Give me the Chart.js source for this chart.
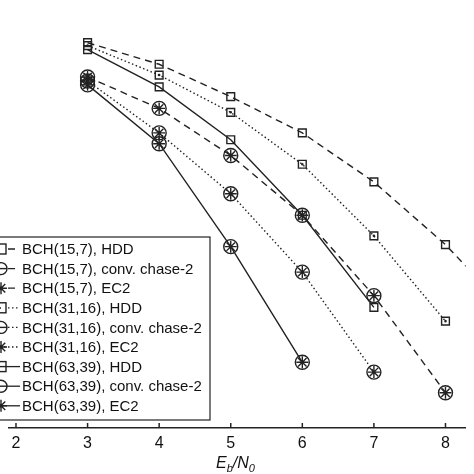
<!DOCTYPE html>
<html><head><meta charset="utf-8">
<script src="https://cdn.jsdelivr.net/npm/chart.js@4.4.0/dist/chart.umd.min.js"></script>
<style>html,body{margin:0;padding:0;background:#fff}#w{width:474px;height:474px}</style>
</head><body><div id="w"><canvas id="c"></canvas></div>
<script>
// Eb/N0 (dB)
const ebn0 = [3, 4, 5, 6, 7, 8, 9];
const xTicks = [2, 3, 4, 5, 6, 7, 8];
// estimated log10(BER) values (relative, y axis labels not visible)
const hdd15 = [-0.35, -0.57, -0.90, -1.27, -1.77, -2.41, -3.18];
const ec15  = [-0.70, -1.02, -1.50, -2.11, -2.93, -3.92];
const hdd31 = [-0.38, -0.68, -1.06, -1.59, -2.32, -3.19];
const ec31  = [-0.74, -1.27, -1.89, -2.69, -3.71];
const hdd63 = [-0.42, -0.80, -1.34, -2.11, -3.05];
const ec63  = [-0.78, -1.38, -2.43, -3.61];
const labels = ['BCH(15,7), HDD','BCH(15,7), conv. chase-2','BCH(15,7), EC2',
  'BCH(31,16), HDD','BCH(31,16), conv. chase-2','BCH(31,16), EC2',
  'BCH(63,39), HDD','BCH(63,39), conv. chase-2','BCH(63,39), EC2'];
const dashes = {dash:[7,5], dot:[1.5,2.5], solid:[]};
function pts(v){return v.map((y,i)=>({x:ebn0[i],y}));}
function ds(v, style, dash, r, line){
  return {data:pts(v), borderColor:'#222', backgroundColor:'rgba(255,255,255,0)', borderWidth: line?1.4:1.3,
    borderDash:dash, showLine:line, pointStyle:style, pointRadius:r, pointBorderColor:'#222', pointBorderWidth:1.4, pointHoverRadius:r};
}
const datasets = [
  ds(hdd15,'rect',dashes.dash,5.5,true),
  ds(ec15,'circle',dashes.dash,7,true),
  ds(ec15,'star',dashes.dash,6,false),
  ds(hdd31,'rect',dashes.dot,5.5,true),
  ds(hdd31,'circle',dashes.dot,0.6,false),
  ds(ec31,'circle',dashes.dot,7,true),
  ds(ec31,'star',dashes.dot,6,false),
  ds(hdd63,'rect',dashes.solid,5.5,true),
  ds(ec63,'circle',dashes.solid,7,true),
  ds(ec63,'star',dashes.solid,6,false)
];
const legendItems = [
  ['rect',dashes.dash],['circle',dashes.dash],['star',dashes.dash],
  ['rectdot',dashes.dot],['circleh',dashes.dot],['star',dashes.dot],
  ['recth',dashes.solid],['circleh',dashes.solid],['star',dashes.solid]];
const overlay = {id:'overlay', afterDraw(ch){
  const c=ch.ctx, xs=ch.scales.x, ya=ch.chartArea;
  c.save(); c.strokeStyle='#222'; c.lineWidth=1.5;
  xTicks.forEach(t=>{const px=xs.getPixelForValue(t); c.beginPath(); c.moveTo(px,ya.bottom); c.lineTo(px,ya.bottom-5); c.stroke();});
  // axis title
  c.fillStyle='#111'; c.textBaseline='alphabetic';
  let x0=216, y0=468;
  c.font='italic 16px "Liberation Sans"'; c.fillText('E',x0,y0); let w=c.measureText('E').width;
  c.font='italic 11px "Liberation Sans"'; c.fillText('b',x0+w,y0+4); w+=c.measureText('b').width;
  c.font='italic 16px "Liberation Sans"'; c.fillText('/N',x0+w,y0); w+=c.measureText('/N').width;
  c.font='italic 11px "Liberation Sans"'; c.fillText('0',x0+w,y0+4);
  // legend
  c.fillStyle='#fff'; c.fillRect(-2,237,212,183); c.lineWidth=1.2; c.strokeRect(-2,237,212,183);
  c.font='15px "Liberation Sans"'; c.textBaseline='middle';
  labels.forEach((t,i)=>{
    const y=249+i*19.6, it=legendItems[i];
    c.strokeStyle='#222'; c.lineWidth=1.3; c.setLineDash(it[1]);
    c.beginPath(); c.moveTo(-4,y); c.lineTo(20,y); c.stroke(); c.setLineDash([]);
    c.lineWidth=1.4; c.fillStyle='#fff';
    if(it[0].startsWith('rect')){c.fillRect(-5,y-5,11,10); c.strokeRect(-5,y-5,11,10); if(it[0]==='rectdot'){c.fillStyle='#222';c.fillRect(-0.5,y-0.5,1.5,1.5);} if(it[0]==='recth'){c.beginPath();c.moveTo(-5,y);c.lineTo(6,y);c.stroke();}}
    else if(it[0].startsWith('circle')){c.beginPath(); c.arc(1,y,6,0,7); c.fill(); c.stroke(); c.beginPath(); c.moveTo(-5,y); c.lineTo(7,y); c.stroke();}
    else {Chart.helpers.drawPoint(c,{pointStyle:'star',radius:6,borderWidth:1.4},1,y);}
    c.fillStyle='#111'; c.fillText(t,22,y+1);
  });
  c.restore();
}};
new Chart(document.getElementById('c'),{type:'scatter',data:{datasets},
  options:{responsive:true,maintainAspectRatio:false,animation:false,
    layout:{padding:{left:0,right:0,top:0,bottom:0}},
    plugins:{legend:{display:false},tooltip:{enabled:false}},
    scales:{
      x:{type:'linear',min:1.894,max:8.281,afterBuildTicks(s){s.ticks=xTicks.map(v=>({value:v}));},
        grid:{display:false,drawTicks:false},border:{display:true,color:'#222',width:1.5},
        ticks:{color:'#111',font:{size:16,family:'"Liberation Sans"'},padding:6,autoSkip:false},
        afterFit(s){s.height=46;}},
      y:{type:'linear',min:-4.28,max:0,display:false}
    }},plugins:[overlay]});
</script></body></html>
